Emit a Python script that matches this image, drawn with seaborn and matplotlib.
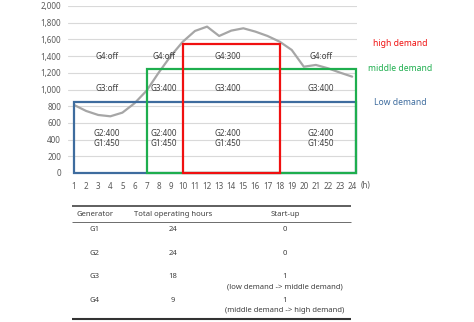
import seaborn as sns
import matplotlib.pyplot as plt
import pandas as pd
from matplotlib.patches import Rectangle

# hourly demand curve
hours = list(range(1, 25))
demand = [815, 743, 695, 679, 723, 835, 986, 1202, 1402, 1573, 1701, 1753,
          1641, 1705, 1733, 1693, 1641, 1573, 1474, 1273, 1294, 1254, 1202, 1154]

# demand blocks: start hour, end hour, level
block_names = ["Low demand", "middle demand", "high demand"]
block_start = [1, 7, 10]
block_end = [24.3, 24.3, 18]
block_level = [850, 1250, 1550]
block_colors = ["#3E6C9E", "#1EAE4E", "#F01010"]

# generator labels inside the blocks
label_x = [3.7, 8.45, 13.75, 21.4]
g4_labels = ["G4:off", "G4:off", "G4:300", "G4:off"]
g3_labels = ["G3:off", "G3:400", "G3:400", "G3:400"]

# table
generators = ["G1", "G2", "G3", "G4"]
op_hours = ["24", "24", "18", "9"]
startups = ["0", "0", "1", "1"]
startup_notes = ["", "", "(low demand -> middle demand)", "(middle demand -> high demand)"]

sns.set_theme(style="whitegrid", rc={"grid.color": "#D9D9D9", "grid.linewidth": 0.8})
plt.rcParams["font.family"] = ["Noto Sans", "DejaVu Sans"]

fig = plt.figure(figsize=(4.74, 3.22), dpi=100)
ax = fig.add_axes([68 / 474, 1 - 173 / 322, (357 - 68) / 474, (173 - 6) / 322])

df = pd.DataFrame({"hour": hours, "demand": demand})
sns.lineplot(data=df, x="hour", y="demand", ax=ax, color="#A6A6A6", linewidth=1.6, zorder=2)

for s, e, lv, c in zip(block_start, block_end, block_level, block_colors):
    ax.add_patch(Rectangle((s, 0), e - s, lv, fill=False, edgecolor=c,
                           linewidth=1.6, zorder=3, clip_on=False))

txt = dict(fontsize=5.8, color="#404040", ha="center", va="center", zorder=4)
for x, g4, g3 in zip(label_x, g4_labels, g3_labels):
    ax.text(x, 1400, g4, **txt)
    ax.text(x, 1015, g3, **txt)
    ax.text(x, 475, "G2:400", **txt)
    ax.text(x, 355, "G1:450", **txt)

for name, lv, c in zip(block_names, block_level, block_colors):
    ax.text(28.0, lv, name, color=c, fontsize=6.2, ha="center", va="center", clip_on=False)

ax.set_xlim(0.5, 24.4)
ax.set_ylim(0, 2000)
ax.set_xticks(hours)
ax.set_xticklabels([str(h) for h in hours])
yt = list(range(0, 2001, 200))
ax.set_yticks(yt)
ax.set_yticklabels([f"{v:,}" for v in yt])
ax.xaxis.grid(False)
ax.tick_params(axis="both", length=0, labelsize=5.8, labelcolor="#595959")
ax.tick_params(axis="x", pad=6.5)
ax.tick_params(axis="y", pad=5)
ax.set_xlabel("")
ax.set_ylabel("")
for sp in ax.spines.values():
    sp.set_visible(False)
ax.text(25.1, -155, "(h)", fontsize=5.8, color="#595959", ha="center", va="center", clip_on=False)

# table drawn in pixel coordinates
tab = fig.add_axes([0, 0, 1, 1], facecolor="none")
tab.set_xlim(0, 474)
tab.set_ylim(322, 0)
tab.axis("off")
tab.hlines(205.5, 72, 351, color="#333333", linewidth=1.1)
tab.hlines(221.5, 72, 351, color="#555555", linewidth=0.6)
tab.hlines(318.5, 72, 351, color="#333333", linewidth=1.5)

ttxt = dict(fontsize=5.5, color="#404040", ha="center", va="center")
col_x = [95, 173, 285]
for x, head in zip(col_x, ["Generator", "Total operating hours", "Start-up"]):
    tab.text(x, 214, head, **ttxt)
row_y = [229, 253, 277, 301]
for y, g, h, s, n in zip(row_y, generators, op_hours, startups, startup_notes):
    tab.text(col_x[0], y, g, **ttxt)
    tab.text(col_x[1], y, h, **ttxt)
    tab.text(col_x[2], y, s, **ttxt)
    if n:
        tab.text(col_x[2], y + 10, n, **ttxt)

fig.savefig("out.png", dpi=100)
